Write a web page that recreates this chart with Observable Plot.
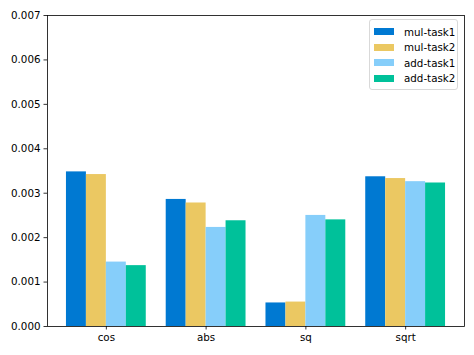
<!DOCTYPE html>
<html>
<head>
<meta charset="utf-8">
<script src="https://cdn.jsdelivr.net/npm/d3@7"></script>
<script src="https://cdn.jsdelivr.net/npm/@observablehq/plot@0.6"></script>
<style>
  html, body { margin: 0; padding: 0; background: #fff; }
  #wrap { position: relative; width: 474px; height: 355px; font-family: "DejaVu Sans", sans-serif; }
  #legend { position: absolute; left: 369px; top: 19px; width: 89px; box-sizing: border-box;
    border: 1px solid #d9d9d9; border-radius: 3px; background: rgba(255,255,255,0.8);
    padding: 4px 0 3px 4px; font-size: 10.3px; color: #000; }
  .row { display: flex; align-items: center; height: 15.5px; }
  .sw { width: 20px; height: 7px; margin-right: 10px; flex: none; }
</style>
</head>
<body>
<div id="wrap"></div>
<script>
const categories = ["cos", "abs", "sq", "sqrt"];
const seriesNames = ["mul-task1", "mul-task2", "add-task1", "add-task2"];
const mulTask1 = [0.00348, 0.00286, 0.00053, 0.00337];
const mulTask2 = [0.00342, 0.00278, 0.00055, 0.00333];
const addTask1 = [0.00145, 0.00223, 0.00250, 0.00326];
const addTask2 = [0.00137, 0.00238, 0.00240, 0.00323];
const colors = ["#0079D2", "#EBC862", "#86CEFA", "#00C19A"];
const yTicks = [0, 0.001, 0.002, 0.003, 0.004, 0.005, 0.006, 0.007];

const seriesValues = [mulTask1, mulTask2, addTask1, addTask2];
const barWidth = 0.2;
const rows = [];
seriesValues.forEach((vals, si) => {
  vals.forEach((v, ci) => rows.push({ci, si, series: seriesNames[si], value: v}));
});

const chart = Plot.plot({
  width: 474,
  height: 355,
  marginLeft: 47,
  marginRight: 10,
  marginTop: 15,
  marginBottom: 29,
  style: {fontFamily: "DejaVu Sans, sans-serif", fontSize: "10.3px", color: "#000", background: "#fff"},
  x: {domain: [-0.59, 3.59], label: null},
  y: {domain: [0, 0.007], label: null},
  color: {domain: seriesNames, range: colors},
  marks: [
    Plot.rectY(rows, {
      x1: d => d.ci + (d.si - 2) * barWidth,
      x2: d => d.ci + (d.si - 1) * barWidth,
      y1: 0,
      y2: "value",
      fill: "series",
      inset: 0
    }),
    Plot.axisX({ticks: categories.map((c, i) => i), tickFormat: i => categories[i], tickSize: 3.5, tickPadding: 3.5, label: null, strokeWidth: 0.8}),
    Plot.axisY({ticks: yTicks, tickFormat: d3.format(".3f"), tickSize: 3.5, tickPadding: 3.5, label: null, strokeWidth: 0.8}),
    Plot.frame({stroke: "#000", strokeWidth: 0.8})
  ]
});

const wrap = document.getElementById("wrap");
wrap.appendChild(chart);
const legend = document.createElement("div");
legend.id = "legend";
seriesNames.forEach((name, i) => {
  const row = document.createElement("div");
  row.className = "row";
  const sw = document.createElement("span");
  sw.className = "sw";
  sw.style.background = colors[i];
  const t = document.createElement("span");
  t.textContent = name;
  row.appendChild(sw);
  row.appendChild(t);
  legend.appendChild(row);
});
wrap.appendChild(legend);
</script>
</body>
</html>
